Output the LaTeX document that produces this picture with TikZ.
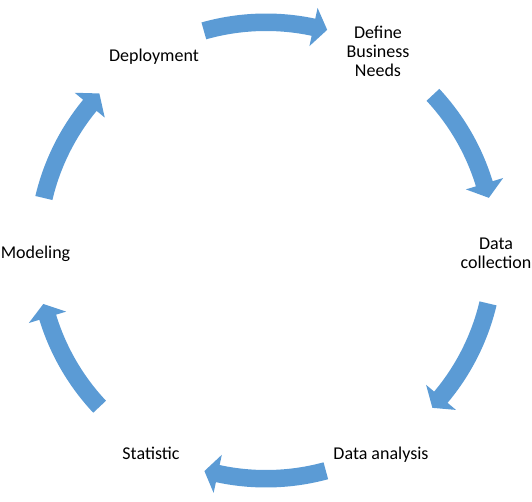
\documentclass[tikz,border=0pt]{standalone}
\usepackage{fontspec}
\setmainfont{Carlito}
\definecolor{cycleblue}{HTML}{5B9BD5}
\begin{document}
\begin{tikzpicture}[x=1pt,y=1pt,
  lbl/.style={align=center,inner sep=0pt,anchor=base,font=\fontsize{18pt}{19pt}\selectfont},
  blockarrow/.style={fill=cycleblue,draw=none}]

\useasboundingbox (-266,-250.5) rectangle (266,250.5);

\node[lbl] (1) at (112,174.5) {Define\\Business\\Needs};
\node[lbl] (2) at (230,-17.5) {Data\\collection};
\node[lbl] (3) at (115,-208.5) {Data analysis};
\node[lbl] (4) at (-115,-208.5) {Statistic};
\node[lbl] (5) at (-230.5,-8) {Modeling};
\node[lbl] (6) at (-112,189.5) {Deployment};

\foreach \t/\b/\p in {105.8/78/74.5, 43/17/13.3, -13.4/-40/-43.4,
                      -74.8/-102.2/-105.6, -136.8/-163/-166.5, 166.7/140.5/136.7}
  \fill[blockarrow] (\t:219.5) -- (\t:237) arc[start angle=\t, end angle=\b, radius=237pt]
    -- (\b:248) -- (\p:229) -- (\b:209) -- (\b:219.5)
    arc[start angle=\b, end angle=\t, radius=219.5pt] -- cycle;
\end{tikzpicture}
\end{document}
